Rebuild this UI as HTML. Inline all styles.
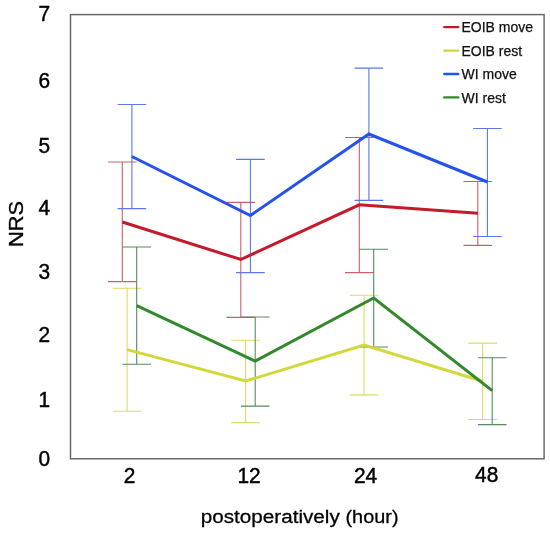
<!DOCTYPE html>
<html><head><meta charset="utf-8"><style>
html,body{margin:0;padding:0;background:#fff;}
body{width:550px;height:534px;overflow:hidden;}
svg{display:block;will-change:transform;font-family:"Liberation Sans",sans-serif;}
</style></head><body>
<svg width="550" height="534" viewBox="0 0 550 534">
<rect width="550" height="534" fill="#fff"/>
<rect x="70.5" y="14.6" width="473.6" height="444.2" fill="none" stroke="#666" stroke-width="1.45"/>
<path d="M122.30 162V281.6M108.00 162H136.60M108.00 281.6H136.60" stroke="#c9606c" stroke-width="1.1" fill="none"/>
<path d="M240.80 202.4V317.4M226.50 202.4H255.10M226.50 317.4H255.10" stroke="#c9606c" stroke-width="1.1" fill="none"/>
<path d="M359.30 137.5V272.6M345.00 137.5H373.60M345.00 272.6H373.60" stroke="#c9606c" stroke-width="1.1" fill="none"/>
<path d="M477.80 181.5V245.4M463.50 181.5H492.10M463.50 245.4H492.10" stroke="#c9606c" stroke-width="1.1" fill="none"/>
<path d="M127.10 288.2V411.3M112.80 288.2H141.40M112.80 411.3H141.40" stroke="#d9dd66" stroke-width="1.1" fill="none"/>
<path d="M245.60 340.3V422.6M231.30 340.3H259.90M231.30 422.6H259.90" stroke="#d9dd66" stroke-width="1.1" fill="none"/>
<path d="M364.10 295.3V394.9M349.80 295.3H378.40M349.80 394.9H378.40" stroke="#d9dd66" stroke-width="1.1" fill="none"/>
<path d="M482.60 343.1V419.5M468.30 343.1H496.90M468.30 419.5H496.90" stroke="#d9dd66" stroke-width="1.1" fill="none"/>
<path d="M131.90 104.5V208.6M117.60 104.5H146.20M117.60 208.6H146.20" stroke="#5a78ec" stroke-width="1.1" fill="none"/>
<path d="M250.40 159.4V272.6M236.10 159.4H264.70M236.10 272.6H264.70" stroke="#5a78ec" stroke-width="1.1" fill="none"/>
<path d="M368.90 68.1V200.4M354.60 68.1H383.20M354.60 200.4H383.20" stroke="#5a78ec" stroke-width="1.1" fill="none"/>
<path d="M487.40 128.5V236.5M473.10 128.5H501.70M473.10 236.5H501.70" stroke="#5a78ec" stroke-width="1.1" fill="none"/>
<path d="M136.70 247V364.3M122.40 247H151.00M122.40 364.3H151.00" stroke="#588c5c" stroke-width="1.1" fill="none"/>
<path d="M255.20 317V406.1M240.90 317H269.50M240.90 406.1H269.50" stroke="#588c5c" stroke-width="1.1" fill="none"/>
<path d="M373.70 249.2V347M359.40 249.2H388.00M359.40 347H388.00" stroke="#588c5c" stroke-width="1.1" fill="none"/>
<path d="M492.20 357.7V424.6M477.90 357.7H506.50M477.90 424.6H506.50" stroke="#588c5c" stroke-width="1.1" fill="none"/>
<polyline points="122.30,222 240.80,259.5 359.30,204.8 477.80,213.2" stroke="#c41a2c" stroke-width="3.0" fill="none" stroke-linejoin="miter"/>
<polyline points="127.10,349.6 245.60,381 364.10,345 482.60,381.2" stroke="#d2d83a" stroke-width="3.0" fill="none" stroke-linejoin="miter"/>
<polyline points="131.90,156.5 250.40,215.5 368.90,134 487.40,182" stroke="#2352ec" stroke-width="3.0" fill="none" stroke-linejoin="miter"/>
<polyline points="136.70,305.6 255.20,361 373.70,298 492.20,390.6" stroke="#34882c" stroke-width="3.0" fill="none" stroke-linejoin="miter"/>
<line x1="444.3" y1="27.1" x2="458.3" y2="27.1" stroke="#c41a2c" stroke-width="2.4" stroke-linecap="round"/>
<text x="461.5" y="32.3" font-size="14" fill="#111" stroke="#111" stroke-width="0.25">EOIB move</text>
<line x1="444.3" y1="50.6" x2="458.3" y2="50.6" stroke="#d2d83a" stroke-width="2.4" stroke-linecap="round"/>
<text x="461.5" y="55.8" font-size="14" fill="#111" stroke="#111" stroke-width="0.25">EOIB rest</text>
<line x1="444.3" y1="74.0" x2="458.3" y2="74.0" stroke="#2352ec" stroke-width="2.4" stroke-linecap="round"/>
<text x="461.5" y="79.2" font-size="14" fill="#111" stroke="#111" stroke-width="0.25">WI move</text>
<line x1="444.3" y1="97.4" x2="458.3" y2="97.4" stroke="#34882c" stroke-width="2.4" stroke-linecap="round"/>
<text x="461.5" y="102.6" font-size="14" fill="#111" stroke="#111" stroke-width="0.25">WI rest</text>
<text transform="translate(44.2 21.28) scale(0.95 1)" font-size="22" text-anchor="middle" fill="#000" stroke="#000" stroke-width="0.45">7</text>
<text transform="translate(44.2 87.73) scale(0.95 1)" font-size="22" text-anchor="middle" fill="#000" stroke="#000" stroke-width="0.45">6</text>
<text transform="translate(44.2 152.58) scale(0.95 1)" font-size="22" text-anchor="middle" fill="#000" stroke="#000" stroke-width="0.45">5</text>
<text transform="translate(44.2 215.48) scale(0.95 1)" font-size="22" text-anchor="middle" fill="#000" stroke="#000" stroke-width="0.45">4</text>
<text transform="translate(44.2 278.58) scale(0.95 1)" font-size="22" text-anchor="middle" fill="#000" stroke="#000" stroke-width="0.45">3</text>
<text transform="translate(44.2 342.18) scale(0.95 1)" font-size="22" text-anchor="middle" fill="#000" stroke="#000" stroke-width="0.45">2</text>
<text transform="translate(44.2 406.73) scale(0.95 1)" font-size="22" text-anchor="middle" fill="#000" stroke="#000" stroke-width="0.45">1</text>
<text transform="translate(44.2 465.83) scale(0.95 1)" font-size="22" text-anchor="middle" fill="#000" stroke="#000" stroke-width="0.45">0</text>
<text transform="translate(129.55 482.68) scale(0.95 1)" font-size="22" text-anchor="middle" fill="#000" stroke="#000" stroke-width="0.45">2</text>
<text transform="translate(249 483.08) scale(0.95 1)" font-size="22" text-anchor="middle" fill="#000" stroke="#000" stroke-width="0.45">12</text>
<text transform="translate(365.6 483.48) scale(0.95 1)" font-size="22" text-anchor="middle" fill="#000" stroke="#000" stroke-width="0.45">24</text>
<text transform="translate(486.7 482.48) scale(0.95 1)" font-size="22" text-anchor="middle" fill="#000" stroke="#000" stroke-width="0.45">48</text>
<text transform="translate(23.4,224) rotate(-90)" font-size="20.6" text-anchor="middle" textLength="46" lengthAdjust="spacingAndGlyphs" fill="#000" stroke="#000" stroke-width="0.35">NRS</text>
<text x="200.8" y="522.8" font-size="19.2" textLength="139" lengthAdjust="spacingAndGlyphs" fill="#000" stroke="#000" stroke-width="0.3">postoperatively</text>
<text x="345.5" y="522.8" font-size="19.2" textLength="53" lengthAdjust="spacingAndGlyphs" fill="#000" stroke="#000" stroke-width="0.3">(hour)</text>
</svg>
</body></html>
